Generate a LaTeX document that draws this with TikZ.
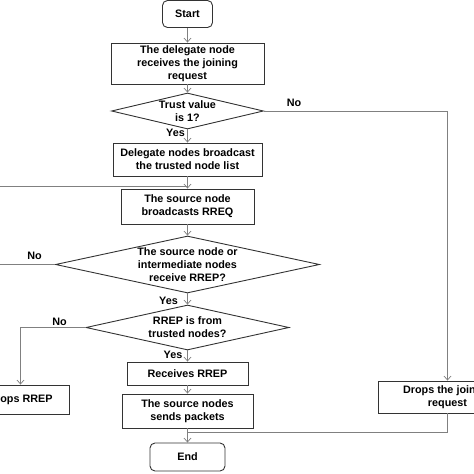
\documentclass[tikz,border=0pt]{standalone}
\usepackage{fontspec}
\setmainfont{Liberation Sans}
\usetikzlibrary{shapes.geometric,arrows.meta}
\begin{document}
\begin{tikzpicture}[x=1pt,y=-1pt,
  font=\fontsize{10.8}{13}\selectfont\bfseries,
  box/.style={draw=black!80,line width=0.9pt,rectangle,align=center,inner sep=0pt},
  term/.style={box,rounded corners=5pt},
  dec/.style={draw=black!80,line width=0.9pt,diamond,align=center,inner sep=0pt},
  conn/.style={draw=black!50,line width=0.7pt},
  arr/.style={conn,-{Straight Barb[length=4pt,width=7pt]}},
  lbl/.style={inner sep=0pt}]
\useasboundingbox (0,0) rectangle (474,474);
\node[term,minimum width=50pt,minimum height=27pt] (start) at (187.5,14) {Start};
\node[box,minimum width=153pt,minimum height=41pt] (deleg) at (187.5,63.5) {The delegate node\\receives the joining\\request};
\node[dec,minimum width=152pt,minimum height=36pt,aspect=4.2] (d1) at (187.5,111) {Trust value\\is 1?};
\node[box,minimum width=149pt,minimum height=33pt] (bcast) at (187.5,159.5) {Delegate nodes broadcast\\the trusted node list};
\node[box,minimum width=133pt,minimum height=35pt] (rreq) at (187.5,206.5) {The source node\\broadcasts RREQ};
\node[dec,minimum width=264pt,minimum height=57pt,aspect=4.6] (d2) at (187.5,264.5) {The source node or\\intermediate nodes\\receive RREP?};
\node[dec,minimum width=203pt,minimum height=45pt,aspect=4.5] (d3) at (187.5,327.5) {RREP is from\\trusted nodes?};
\node[box,minimum width=121pt,minimum height=23pt] (recv) at (187.5,373.5) {Receives RREP};
\node[box,minimum width=131pt,minimum height=34pt] (send) at (187.5,411) {The source nodes\\sends packets};
\node[term,minimum width=75pt,minimum height=28pt] (end) at (187.5,457) {End};
\node[box,minimum width=98pt,minimum height=29pt] (dropR) at (20.5,399.5) {Drops RREP};
\node[box,minimum width=139pt,minimum height=32pt] (dropJ) at (447.5,397) {Drops the joining\\request};
\draw[arr] (start) -- (deleg);
\draw[arr] (deleg) -- (d1);
\draw[arr] (d1) -- (bcast);
\draw[arr] (bcast) -- (rreq);
\draw[arr] (rreq) -- (d2);
\draw[arr] (d2) -- (d3);
\draw[arr] (d3) -- (recv);
\draw[arr] (recv) -- (send);
\draw[arr] (send) -- (end);
\coordinate (jn1) at (187.5,186);
\coordinate (lp) at (-12,0);
\draw[conn] (d2.west) -- (d2.west -| lp) -- (lp |- jn1) -- (jn1);
\draw[arr] (d3.west) -| (dropR.north);
\draw[arr] (d1.east) -| (dropJ.north);
\coordinate (jn2) at (187.5,432);
\draw[conn] (dropJ.south) |- (jn2);
\node[lbl] (no1) at (294,103) {No};
\node[lbl] (yes1) at (175.5,133) {Yes};
\node[lbl] (no2) at (34.5,256) {No};
\node[lbl] (yes2) at (168.5,301) {Yes};
\node[lbl] (no3) at (59.5,322) {No};
\node[lbl] (yes3) at (173,355) {Yes};
\end{tikzpicture}
\end{document}
